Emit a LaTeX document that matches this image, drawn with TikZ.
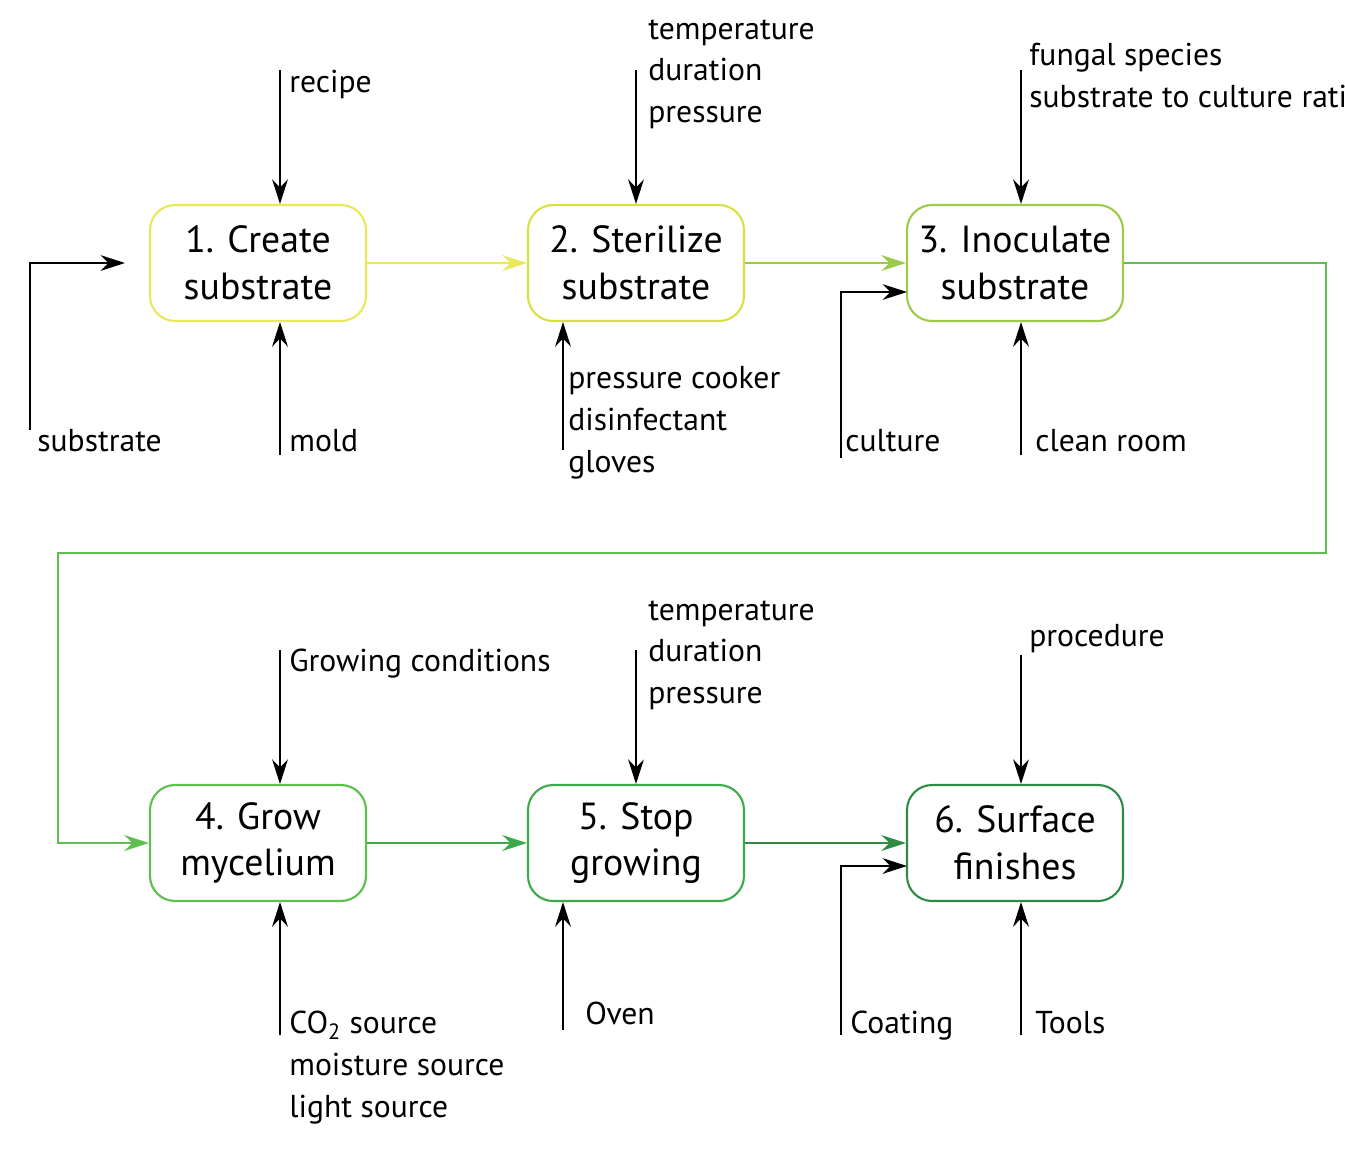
\documentclass[tikz,border=0pt]{standalone}
\usepackage{fontspec}
\setmainfont{PT Sans}
\usetikzlibrary{arrows.meta}
\definecolor{c1}{HTML}{E8E85A}
\definecolor{c2}{HTML}{D8E040}
\definecolor{c3}{HTML}{9CCB4A}
\definecolor{c4}{HTML}{5CBF4E}
\definecolor{c5}{HTML}{3DAA4A}
\definecolor{c6}{HTML}{2E8B45}
\begin{document}
\begin{tikzpicture}[x=0.02cm,y=-0.02cm,
  box/.style={draw,line width=1.2pt,rounded corners=0.5cm,minimum width=4.32cm,minimum height=2.32cm,align=center,font=\fontsize{21.5}{26.6}\selectfont},
  lab/.style={anchor=north west,align=left,inner sep=0pt,font=\fontsize{18}{23.8}\selectfont},
  arr/.style={-{Stealth[length=14pt,width=9pt]},line width=0.9pt},
  flow/.style={-{Stealth[length=14pt,width=9pt]},line width=1.2pt}]
\useasboundingbox (0,0) rectangle (1345,1150);
\node[box,draw=c1] (b1) at (258,263) {1. Create\\substrate};
\node[box,draw=c2] (b2) at (636,263) {2. Sterilize\\substrate};
\node[box,draw=c3] (b3) at (1015,263) {3. Inoculate\\substrate};
\node[box,draw=c4] (b4) at (258,843) {4. Grow\\mycelium};
\node[box,draw=c5] (b5) at (636,843) {5. Stop\\growing};
\node[box,draw=c6] (b6) at (1015,843) {6. Surface\\finishes};
% flow
\draw[flow,c1] (b1.east) -- (b2.west);
\draw[flow,c3] (b2.east) -- (b3.west);
\draw[flow,c4] (b3.east) -- (1326,263) -- (1326,553) -- (58,553) -- (58,843) -- (b4.west);
\draw[flow,c5] (b4.east) -- (b5.west);
\draw[flow,c6] (b5.east) -- (b6.west);
% coordinates
\coordinate (s0) at (30,430); \coordinate (s1) at (125,263);
\coordinate (t1) at (280,70); \coordinate (m1) at (280,455);
\coordinate (t2) at (636,70); \coordinate (m2) at (563,450);
\coordinate (t3) at (1021,70); \coordinate (m3) at (1021,455); \coordinate (c3) at (841,458);
\coordinate (t4) at (280,650); \coordinate (m4) at (280,1035);
\coordinate (t5) at (636,650); \coordinate (m5) at (563,1030);
\coordinate (t6) at (1021,655); \coordinate (m6) at (1021,1035); \coordinate (c6) at (841,1035);
\draw[arr] (s0) -- (30,263) -- (s1);
\draw[arr] (t1) -- (t1|-b1.north);
\draw[arr] (m1) -- (m1|-b1.south);
\draw[arr] (t2) -- (b2.north);
\draw[arr] (m2) -- (m2|-b2.south);
\draw[arr] (t3) -- (t3|-b3.north);
\draw[arr] (m3) -- (m3|-b3.south);
\draw[arr] (c3) -- (841,292) -- (907,292);
\draw[arr] (t4) -- (t4|-b4.north);
\draw[arr] (m4) -- (m4|-b4.south);
\draw[arr] (t5) -- (b5.north);
\draw[arr] (m5) -- (m5|-b5.south);
\draw[arr] (t6) -- (t6|-b6.north);
\draw[arr] (m6) -- (m6|-b6.south);
\draw[arr] (c6) -- (841,866) -- (907,866);
% labels
\node[lab] (l0) at (37,429) {substrate};
\node[lab] (l1) at (289,70) {recipe};
\node[lab] (l2) at (289,429) {mold};
\node[lab] (l3) at (648,19) {temperature\\duration\\pressure};
\node[lab] (l4) at (568,366) {pressure cooker\\disinfectant\\gloves};
\node[lab] (l5) at (1029,43) {fungal species\\substrate to culture ratio};
\node[lab] (l6) at (845,429) {culture};
\node[lab] (l7) at (1035,429) {clean room};
\node[lab] (l8) at (289,649) {Growing conditions};
\node[lab] (l9) at (289,1011) {CO\textsubscript{2} source\\moisture source\\light source};
\node[lab] (l10) at (648,600) {temperature\\duration\\pressure};
\node[lab] (l11) at (585,1002) {Oven};
\node[lab] (l12) at (1029,624) {procedure};
\node[lab] (l13) at (850,1011) {Coating};
\node[lab] (l14) at (1035,1011) {Tools};
\end{tikzpicture}
\end{document}
